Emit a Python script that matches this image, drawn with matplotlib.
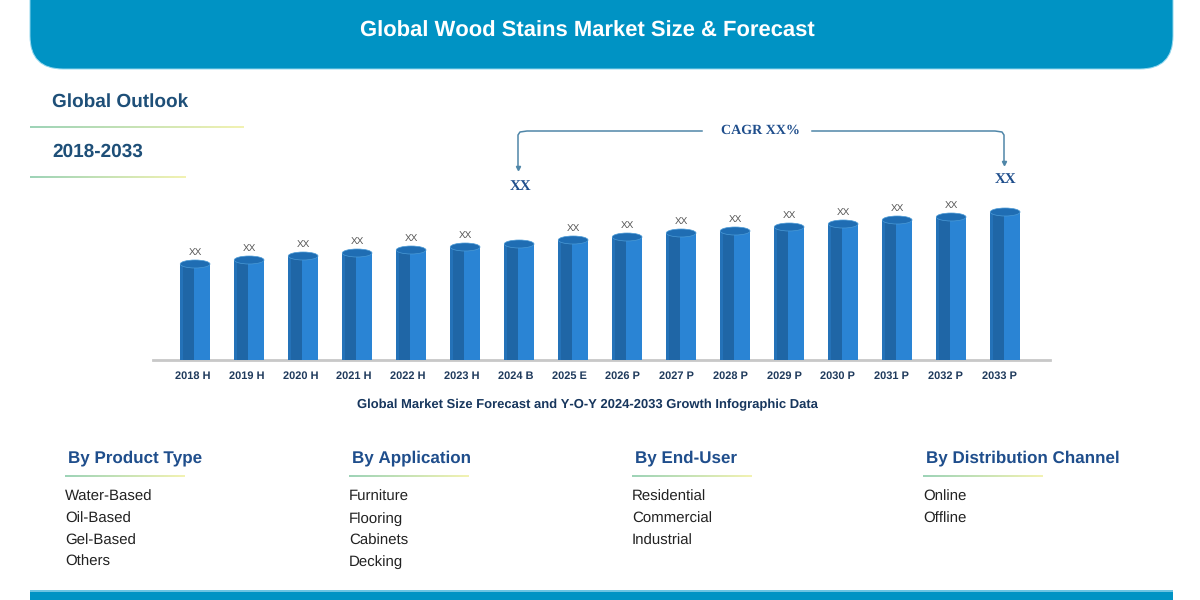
#!/usr/bin/env python3
# coding: utf-8

import numpy as np
import matplotlib
matplotlib.use("Agg")
import matplotlib.pyplot as plt
from matplotlib.patches import Ellipse, FancyBboxPatch, Rectangle

YEARS = ["2018 H", "2019 H", "2020 H", "2021 H", "2022 H", "2023 H", "2024 B", "2025 E",
         "2026 P", "2027 P", "2028 P", "2029 P", "2030 P", "2031 P", "2032 P", "2033 P"]
VALUES = [96, 100, 104, 107, 110, 113, 116, 120, 123, 127, 129, 133, 136, 140, 143, 148]
BAR_LABELS = ["XX"] * 15 + [""]
BAR_LABELS[6] = ""

TITLE = "Global Wood Stains Market Size & Forecast"
SUBTITLE = "Global Market Size Forecast and Y-O-Y 2024-2033 Growth Infographic Data"
SEGMENT_TITLES = ["By Product Type", "By Application", "By End-User", "By Distribution Channel"]
SEGMENT_ITEMS = [["Water-Based", "Oil-Based", "Gel-Based", "Others"],
                 ["Furniture", "Flooring", "Cabinets", "Decking"],
                 ["Residential", "Commercial", "Industrial"],
                 ["Online", "Offline"]]

# plot parameters
plt.rcParams["text.hinting"] = "no_hinting"
plt.rcParams["text.hinting_factor"] = 1
SANS = "Liberation Sans"
SERIF = "Liberation Serif"
TEAL = "#0093c4"
NAVY = "#1e4f78"
HEAD_BLUE = "#1f4e8c"
EDGE_BAR = "#2472b8"
DARK_BAR = "#1f66a6"
LIGHT_BAR = "#2a84d4"
CAP_BAR = "#1f6db3"
RIM = "#4a9ad6"
W, H = 1200, 600

fig = plt.figure(figsize=(12, 6), dpi=100, facecolor="white")

# page axes, one unit is one pixel
page = fig.add_axes([0, 0, 1, 1])
page.set_xlim(0, W)
page.set_ylim(H, 0)
page.axis("off")


def rule(x0, x1, y, lw=2):
    """ gradient rule, green to pale yellow """
    grad = np.linspace(0, 1, 64)[None, :, None]
    start, end = np.array([0.62, 0.83, 0.72]), np.array([0.95, 0.95, 0.70])
    page.imshow(start + grad * (end - start), extent=(x0, x1, y + lw / 2, y - lw / 2),
                aspect="auto", zorder=2)


# header and footer
page.add_patch(FancyBboxPatch((30 + 33, -60 + 33), 1143 - 66, 129 - 66,
                              boxstyle="round,pad=33,rounding_size=33",
                              fc=TEAL, ec="#8fd6ee", lw=0.7, zorder=1))
page.add_patch(Rectangle((30, 591), 1143, 9, fc=TEAL, ec="none", zorder=1))
page.add_patch(Rectangle((30, 590), 1143, 1.5, fc="#6cc3e2", ec="none", zorder=1))
page.text(587, 37, TITLE, color="white", fontsize=16, fontweight="bold", family=SANS,
          ha="center", va="baseline")

# left outlook block
page.text(52, 106.5, "Global Outlook", color=NAVY, fontsize=13.6, fontweight="bold", family=SANS,
          va="baseline")
page.text(52, 157, "2018-2033", color=NAVY, fontsize=13.6, fontweight="bold", family=SANS,
          va="baseline")
rule(30, 244, 127)
rule(30, 186, 177)

# CAGR bracket
page.plot([702, 527, 520, 518, 518], [131, 131, 132, 135, 168], color="#4f86a8", lw=1.1)
page.plot([812, 995, 1002, 1004, 1004], [131, 131, 132, 135, 163], color="#4f86a8", lw=1.1)
page.plot([518, 1004], [168, 163], ls="none", marker="v", ms=3, color="#4f86a8")
page.text(760, 130, "CAGR XX%", color=HEAD_BLUE, fontsize=10.3, fontweight="bold", family=SERIF,
          ha="center", va="center")
page.text(521, 186, "XX", color=HEAD_BLUE, fontsize=11, fontweight="bold", family=SERIF,
          ha="center", va="center")
page.text(1006, 179, "XX", color=HEAD_BLUE, fontsize=11, fontweight="bold", family=SERIF,
          ha="center", va="center")

# bars
ax = fig.add_axes([153 / W, 1 - 360 / H, (1050 - 153) / W, 160 / H], facecolor="none")
ax.set_xlim(-0.78, 15.83)
ax.set_ylim(0, 160)
x = np.arange(len(YEARS))
bar_w = 0.55
ax.bar(x, VALUES, width=bar_w, color=LIGHT_BAR, zorder=2)
ax.bar(x - bar_w * 0.27, VALUES, width=bar_w * 0.46, color=DARK_BAR, zorder=3)
ax.bar(x - bar_w * 0.45, VALUES, width=bar_w * 0.1, color=EDGE_BAR, zorder=3)
for i, v in enumerate(VALUES):
    ax.add_patch(Ellipse((i, v), bar_w, 8, fc=CAP_BAR, ec=RIM, lw=0.5, zorder=4))
    if BAR_LABELS[i]:
        ax.text(i, v + 7, BAR_LABELS[i], color="#555555", fontsize=7, family=SANS,
                ha="center", va="bottom")
for s in ["top", "left", "right"]:
    ax.spines[s].set_visible(False)
ax.spines["bottom"].set_color("#c8c8c8")
ax.spines["bottom"].set_linewidth(2)
ax.spines["bottom"].set_zorder(1)
ax.set_yticks([])
# the labels run a little tighter than the bars
ax.set_xticks(x * 0.995 - 0.04)
ax.set_xticklabels(YEARS, fontsize=8.2, fontweight="bold", family=SANS, color="#1f3a5c")
ax.tick_params(axis="x", length=0, pad=8)

page.text(587, 408, SUBTITLE, color="#17365d", fontsize=9.1, fontweight="bold", family=SANS,
          ha="center", va="baseline")

# segment lists
heads_x = [68, 352, 635, 926]
items_x = [65, 349, 632, 923]
for hx, ix, head, items in zip(heads_x, items_x, SEGMENT_TITLES, SEGMENT_ITEMS):
    page.text(hx, 462.5, head, color=HEAD_BLUE, fontsize=12.5, fontweight="bold", family=SANS,
              va="baseline")
    rule(ix, ix + 120, 476, lw=1.5)
    for j, item in enumerate(items):
        page.text(ix, 501 + j * 21.7, item, color="#222222", fontsize=10.7, family=SANS,
                  va="baseline")

page.set_xlim(0, W)
page.set_ylim(H, 0)

plt.savefig("out.png", dpi=100)
